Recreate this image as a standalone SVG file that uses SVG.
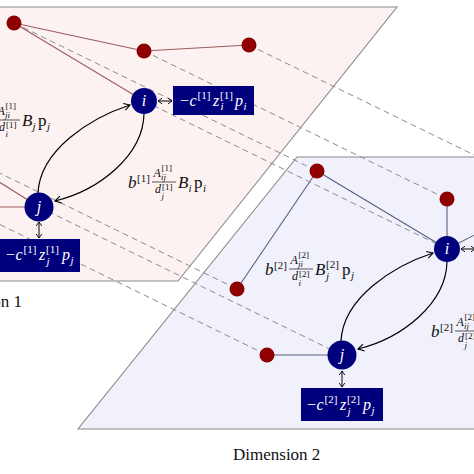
<svg xmlns="http://www.w3.org/2000/svg" width="474" height="474" viewBox="0 0 474 474">
<defs>
<marker id="ah" markerWidth="10" markerHeight="10" refX="8" refY="5" orient="auto" markerUnits="userSpaceOnUse">
<path d="M2,1.5 L8,5 L2,8.5" fill="none" stroke="#000" stroke-width="1.1"/>
</marker>
<marker id="ahs" markerWidth="8" markerHeight="8" refX="6" refY="4" orient="auto-start-reverse" markerUnits="userSpaceOnUse">
<path d="M2,1.2 L6,4 L2,6.8" fill="none" stroke="#000" stroke-width="0.9"/>
</marker>
</defs>
<style>
.plane{stroke:#8a8a8a;stroke-width:1.1}
.e1{stroke:#9c5c5c;stroke-width:1.1;fill:none}
.e2{stroke:#5c5c86;stroke-width:1.1;fill:none}
.dash{stroke:#8c8c8c;stroke-width:1;stroke-dasharray:6 4;fill:none}
.red{fill:#8e0000}
.blue{fill:#00007d}
.box{fill:#00007d}
.cur{stroke:#000;stroke-width:1.2;fill:none;marker-end:url(#ah)}
.dbl{stroke:#000;stroke-width:1;fill:none;marker-start:url(#ahs);marker-end:url(#ahs)}
text{font-family:"Liberation Serif","DejaVu Serif",serif}
.it{font-style:italic}
.w{fill:#fff}
.k{fill:#111}
.nl{font-size:16px;font-style:italic;fill:#fff;text-anchor:middle}
</style>
<rect width="474" height="474" fill="#fff"/>
<path class="plane" d="M-10,7 L397,7 L178,281 L-10,281" fill="#fdf2f2"/>
<path class="plane" d="M484,157 L297,157 L78,429 L484,429" fill="#f1f1fb"/>
<g id="connectors">
<line class="e1" x1="14" y1="23" x2="144" y2="51"/>
<line class="e1" x1="144" y1="51" x2="249" y2="45"/>
<line class="e1" x1="14" y1="23" x2="144" y2="101"/>
<line class="e1" x1="39" y1="207" x2="-66" y2="141"/>
<line class="e1" x1="39" y1="207" x2="-36" y2="207"/>
<line class="e2" x1="237" y1="289" x2="317" y2="171"/>
<line class="e2" x1="317" y1="171" x2="447" y2="249"/>
<line class="e2" x1="447" y1="199" x2="447" y2="249"/>
<line class="e2" x1="267" y1="355" x2="342" y2="355"/>
<line class="e2" x1="447" y1="249" x2="500" y2="222"/>
<line class="dash" x1="14" y1="23" x2="317" y2="171"/>
<line class="dash" x1="144" y1="51" x2="447" y2="199"/>
<line class="dash" x1="249" y1="45" x2="552" y2="193"/>
<line class="dash" x1="144" y1="101" x2="447" y2="249"/>
<line class="dash" x1="39" y1="207" x2="342" y2="355"/>
<line class="dash" x1="-66" y1="141" x2="237" y2="289"/>
<line class="dash" x1="-36" y1="207" x2="267" y2="355"/>
<path class="cur" d="M38,193 C40,150 90,118 130,105"/>
<path class="cur" d="M144,114 C143,155 100,190 55,201"/>
<path class="cur" d="M341,341 C343,298 393,266 433,253"/>
<path class="cur" d="M447,262 C446,303 403,338 358,349"/>
<line class="dbl" x1="158" y1="101" x2="172" y2="101"/>
<line class="dbl" x1="39" y1="222" x2="39" y2="238"/>
<line class="dbl" x1="342" y1="371" x2="342" y2="387"/>
<line class="dbl" x1="461" y1="249" x2="475" y2="249"/>
</g>
<g id="nA"><circle class="red" cx="14" cy="23" r="7.5"/></g>
<g id="nB"><circle class="red" cx="144" cy="51" r="7.5"/></g>
<g id="nC"><circle class="red" cx="249" cy="45" r="7.5"/></g>
<g id="nD"><circle class="red" cx="317" cy="171" r="7.5"/></g>
<g id="nE"><circle class="red" cx="447" cy="199" r="7.5"/></g>
<g id="nF"><circle class="red" cx="237" cy="289" r="7.5"/></g>
<g id="nG"><circle class="red" cx="267" cy="355" r="7.5"/></g>
<g id="i1"><circle class="blue" cx="144" cy="101" r="13"/><text class="nl" x="144" y="106">i</text></g>
<g id="j1"><circle class="blue" cx="39" cy="207" r="14.5"/><text class="nl" x="39" y="212">j</text></g>
<g id="i2"><circle class="blue" cx="447" cy="249" r="13"/><text class="nl" x="447" y="254">i</text></g>
<g id="j2"><circle class="blue" cx="342" cy="355" r="14.5"/><text class="nl" x="342" y="360">j</text></g>
<g id="box_i1">
<rect class="box" x="173" y="86" width="81" height="29"/>
<g transform="translate(180,106)">
<text x="0" y="0" font-size="16" class="w">−</text>
<text x="9.5" y="0" font-size="16" class="w it">c</text>
<text x="17.5" y="-7" font-size="11" class="w">[1]</text>
<text x="33" y="0" font-size="16" class="w it">z</text>
<text x="40" y="-7" font-size="11" class="w">[1]</text>
<text x="40.5" y="4" font-size="11" class="w it">i</text>
<text x="55" y="0" font-size="16" class="w it">p</text>
<text x="63.5" y="3.5" font-size="11" class="w it">i</text>
</g>
</g>
<g id="box_j1">
<rect class="box" x="-10" y="239" width="90" height="33"/>
<g transform="translate(6,260)">
<text x="0" y="0" font-size="16" class="w">−</text>
<text x="9.5" y="0" font-size="16" class="w it">c</text>
<text x="17.5" y="-7" font-size="11" class="w">[1]</text>
<text x="33" y="0" font-size="16" class="w it">z</text>
<text x="40" y="-7" font-size="11" class="w">[1]</text>
<text x="40.5" y="5" font-size="11" class="w it">j</text>
<text x="56" y="0" font-size="16" class="w it">p</text>
<text x="64.5" y="3.5" font-size="11" class="w it">j</text>
</g>
</g>
<g id="box_j2">
<rect class="box" x="301" y="388" width="82" height="33"/>
<g transform="translate(307,410)">
<text x="0" y="0" font-size="16" class="w">−</text>
<text x="9.5" y="0" font-size="16" class="w it">c</text>
<text x="17.5" y="-7" font-size="11" class="w">[2]</text>
<text x="33" y="0" font-size="16" class="w it">z</text>
<text x="40" y="-7" font-size="11" class="w">[2]</text>
<text x="40.5" y="5" font-size="11" class="w it">j</text>
<text x="56" y="0" font-size="16" class="w it">p</text>
<text x="64.5" y="3.5" font-size="11" class="w it">j</text>
</g>
</g>
<g id="lab1" transform="translate(128,188)" class="k">
<text x="0" y="0" font-size="17" class="it">b</text>
<text x="9" y="-6" font-size="11">[1]</text>
<text x="25.5" y="-11" font-size="12" class="it">A</text>
<text x="33.5" y="-17" font-size="9">[1]</text>
<text x="33" y="-8" font-size="9" class="it">ij</text>
<line x1="24" y1="-6" x2="48" y2="-6" stroke="#111" stroke-width="0.7"/>
<text x="27" y="5" font-size="12" class="it">d</text>
<text x="34" y="1.5" font-size="9">[1]</text>
<text x="33.5" y="11" font-size="9" class="it">j</text>
<text x="50" y="0" font-size="17" class="it">B</text>
<text x="60.5" y="3.5" font-size="11" class="it">i</text>
<text x="66" y="0" font-size="17">p</text>
<text x="75" y="3.5" font-size="11" class="it">i</text>
</g>
<g id="lab0" transform="translate(-28,126)" class="k">
<text x="25.5" y="-11" font-size="12" class="it">A</text>
<text x="33.5" y="-17" font-size="9">[1]</text>
<text x="33" y="-8" font-size="9" class="it">ji</text>
<line x1="24" y1="-6" x2="48" y2="-6" stroke="#111" stroke-width="0.7"/>
<text x="27" y="5" font-size="12" class="it">d</text>
<text x="34" y="1.5" font-size="9">[1]</text>
<text x="33.5" y="11" font-size="9" class="it">i</text>
<text x="50" y="0" font-size="17" class="it">B</text>
<text x="60.5" y="3.5" font-size="11" class="it">j</text>
<text x="66" y="0" font-size="17">p</text>
<text x="75" y="3.5" font-size="11" class="it">j</text>
</g>
<g id="lab2" transform="translate(265,275)" class="k">
<text x="0" y="0" font-size="17" class="it">b</text>
<text x="9" y="-6" font-size="11">[2]</text>
<text x="25.5" y="-11" font-size="12" class="it">A</text>
<text x="33.5" y="-17" font-size="9">[2]</text>
<text x="33" y="-8" font-size="9" class="it">ji</text>
<line x1="24" y1="-6" x2="48" y2="-6" stroke="#111" stroke-width="0.7"/>
<text x="27" y="5" font-size="12" class="it">d</text>
<text x="34" y="1.5" font-size="9">[2]</text>
<text x="33.5" y="11" font-size="9" class="it">i</text>
<text x="50" y="0" font-size="17" class="it">B</text>
<text x="61" y="-7" font-size="11">[2]</text>
<text x="61" y="4.5" font-size="11" class="it">j</text>
<text x="77" y="0" font-size="17">p</text>
<text x="86" y="3.5" font-size="11" class="it">j</text>
</g>
<g id="lab3" transform="translate(431,337)" class="k">
<text x="0" y="0" font-size="17" class="it">b</text>
<text x="9" y="-6" font-size="11">[2]</text>
<text x="25.5" y="-11" font-size="12" class="it">A</text>
<text x="33.5" y="-17" font-size="9">[2]</text>
<text x="33" y="-8" font-size="9" class="it">ij</text>
<line x1="24" y1="-6" x2="48" y2="-6" stroke="#111" stroke-width="0.7"/>
<text x="27" y="5" font-size="12" class="it">d</text>
<text x="34" y="1.5" font-size="9">[2]</text>
<text x="33.5" y="11" font-size="9" class="it">j</text>
</g>
<text x="22" y="307" font-size="17" text-anchor="end" class="k">Dimension 1</text>
<text x="233" y="460" font-size="17" class="k">Dimension 2</text>
</svg>
